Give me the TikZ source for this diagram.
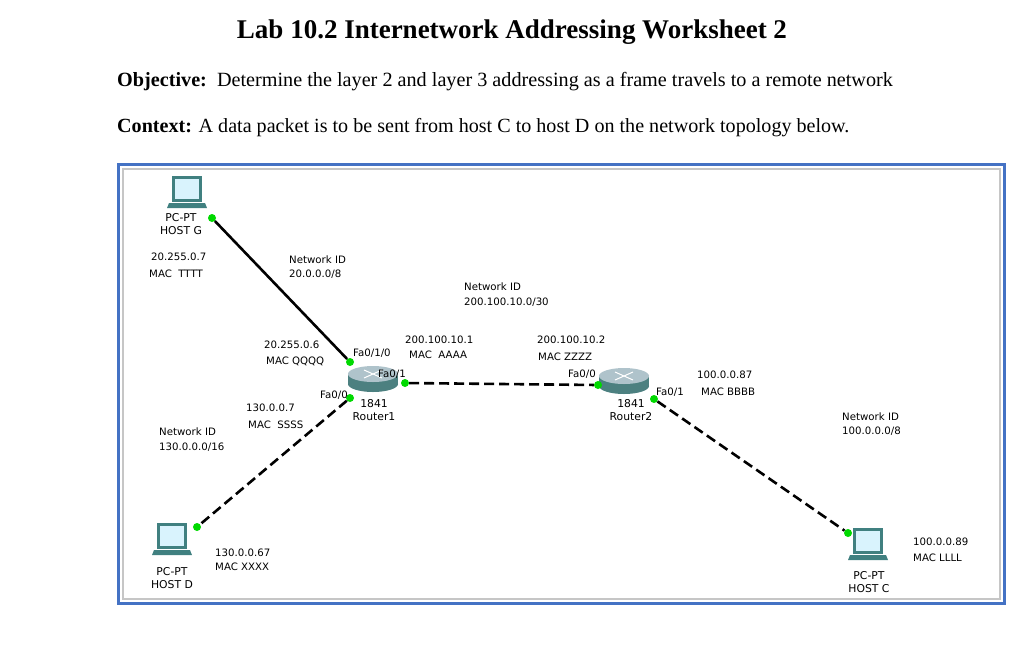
\documentclass[tikz,border=0pt]{standalone}
\usepackage{fontspec}
\setmainfont{Liberation Serif}
\newfontfamily\dg{DejaVu Sans}
\definecolor{fb}{RGB}{68,114,196}
\begin{document}
\begin{tikzpicture}[x=1pt,y=-1pt,
 lbl/.style={font=\dg\fontsize{10.2}{12}\selectfont,anchor=west,inner sep=0pt},
 clbl/.style={font=\dg\fontsize{10.8}{12.5}\selectfont,align=center,inner sep=0pt},
 dot/.style={circle,fill=green!85!black,inner sep=0pt,minimum size=8pt},
 lnk/.style={line width=2.6pt,black},
 dlnk/.style={line width=2.6pt,black,dash pattern=on 10pt off 5pt}]
\useasboundingbox (0,0) rectangle (1024,665);
\node[font=\bfseries\fontsize{27}{30}\selectfont] (title) at (512,32) {Lab 10.2 Internetwork Addressing Worksheet 2};
\node[anchor=west,font=\fontsize{20.2}{23}\selectfont,inner sep=0pt] (obj) at (117,82) {\textbf{Objective:}\ \ Determine the layer 2 and layer 3 addressing as a frame travels to a remote network};
\node[anchor=west,font=\fontsize{20.1}{23}\selectfont,inner sep=0pt] (ctx) at (117,128) {\textbf{Context:} A data packet is to be sent from host C to host D on the network topology below.};
\draw[line width=3pt,fb] (118,164) rectangle (1004,603);
\draw[line width=2pt,gray!45] (122.5,168.5) rectangle (999.5,598.5);
% PCs
\foreach \n/\x/\y in {g/187/193, d/172/540, c/868/545}{
 \begin{scope}[shift={(\x,\y)}]
 \fill[teal!50!gray] (-15,-17) rectangle (15,9);
 \fill[cyan!15] (-12,-14) rectangle (12,6);
 \fill[teal!50!gray] (-18,10) -- (18,10) -- (20,15) -- (-20,15) -- cycle;
 \end{scope}}
\node[clbl] (hg) at (181,224) {PC-PT\\HOST G};
\node[clbl] (hd) at (172,578) {PC-PT\\HOST D};
\node[clbl] (hc) at (869,582) {PC-PT\\HOST C};
% routers
\foreach \x/\y in {373/378, 624/380}{
 \begin{scope}[shift={(\x,\y)}]
 \fill[teal!40!gray] (-25,-4) rectangle (25,6);
 \fill[teal!40!gray] (0,6) ellipse (25 and 8);
 \fill[cyan!25!gray!60] (0,-4) ellipse (25 and 8);
 \draw[white,line width=1pt] (-9,-8)--(9,0) (-9,0)--(9,-8);
 \end{scope}}
\node[clbl] (r1) at (374,410) {1841\\Router1};
\node[clbl] (r2) at (631,410) {1841\\Router2};
% dots
\node[dot] (gp) at (212,218) {};
\node[dot] (r1a) at (350,362) {};
\node[dot] (r1b) at (405,383) {};
\node[dot] (r1c) at (350,398) {};
\node[dot] (r2a) at (598,385) {};
\node[dot] (r2b) at (654,399) {};
\node[dot] (cp) at (848,533) {};
\node[dot] (dp) at (197,527) {};
\draw[lnk] (gp) -- (r1a);
\draw[dlnk] (r1b) -- (r2a);
\draw[dlnk] (r2b) -- (cp);
\draw[dlnk] (r1c) -- (dp);
% labels
\node[lbl] at (151,257) {20.255.0.7};
\node[lbl] at (149,274) {MAC\ \ TTTT};
\node[lbl] at (289,260) {Network ID};
\node[lbl] at (289,274) {20.0.0.0/8};
\node[lbl] at (464,287) {Network ID};
\node[lbl] at (464,302) {200.100.10.0/30};
\node[lbl] at (264,345) {20.255.0.6};
\node[lbl] at (266,361) {MAC QQQQ};
\node[lbl] at (353,353) {Fa0/1/0};
\node[lbl] at (405,340) {200.100.10.1};
\node[lbl] at (409,355) {MAC\ \ AAAA};
\node[lbl] at (378,374) {Fa0/1};
\node[lbl] at (320,395) {Fa0/0};
\node[lbl] at (537,340) {200.100.10.2};
\node[lbl] at (538,357) {MAC ZZZZ};
\node[lbl] at (568,374) {Fa0/0};
\node[lbl] at (656,392) {Fa0/1};
\node[lbl] at (697,375) {100.0.0.87};
\node[lbl] at (701,392) {MAC BBBB};
\node[lbl] at (246,408) {130.0.0.7};
\node[lbl] at (248,425) {MAC\ \ SSSS};
\node[lbl] at (159,432) {Network ID};
\node[lbl] at (159,447) {130.0.0.0/16};
\node[lbl] at (842,417) {Network ID};
\node[lbl] at (842,431) {100.0.0.0/8};
\node[lbl] at (215,553) {130.0.0.67};
\node[lbl] at (215,567) {MAC XXXX};
\node[lbl] at (913,542) {100.0.0.89};
\node[lbl] at (913,558) {MAC LLLL};
\end{tikzpicture}
\end{document}
